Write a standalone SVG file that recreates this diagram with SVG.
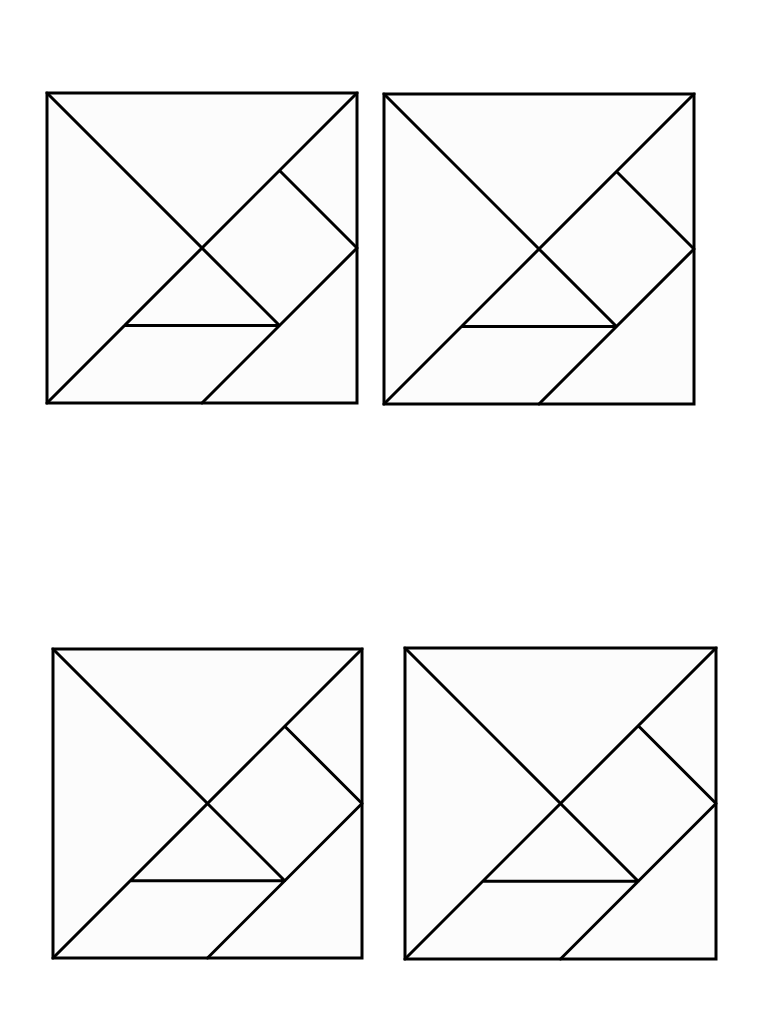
<svg xmlns="http://www.w3.org/2000/svg" width="768" height="1024" viewBox="0 0 768 1024">
<style>
.frame{fill:#fcfcfc;stroke:#000;stroke-width:3;stroke-linejoin:miter}
.cut{fill:none;stroke:#000;stroke-width:3;stroke-linecap:round}
</style>
<rect width="768" height="1024" fill="#fff"/>
<g id="tangram1">
<rect class="frame" x="47" y="93" width="310" height="310"/>
<path class="cut" d="M47,93 L279.5,325.5 M47,403 L357,93 M124.5,325.5 H279.5 M279.5,170.5 L357,248 M357,248 L202,403"/>
</g>
<g id="tangram2">
<rect class="frame" x="384" y="94" width="310" height="310"/>
<path class="cut" d="M384,94 L616.5,326.5 M384,404 L694,94 M461.5,326.5 H616.5 M616.5,171.5 L694,249 M694,249 L539,404"/>
</g>
<g id="tangram3">
<rect class="frame" x="53" y="649" width="309" height="309"/>
<path class="cut" d="M53,649 L284.75,880.75 M53,958 L362,649 M130.25,880.75 H284.75 M284.75,726.25 L362,803.5 M362,803.5 L207.5,958"/>
</g>
<g id="tangram4">
<rect class="frame" x="405" y="648" width="311" height="311"/>
<path class="cut" d="M405,648 L638.25,881.25 M405,959 L716,648 M482.75,881.25 H638.25 M638.25,725.75 L716,803.5 M716,803.5 L560.5,959"/>
</g>
</svg>
